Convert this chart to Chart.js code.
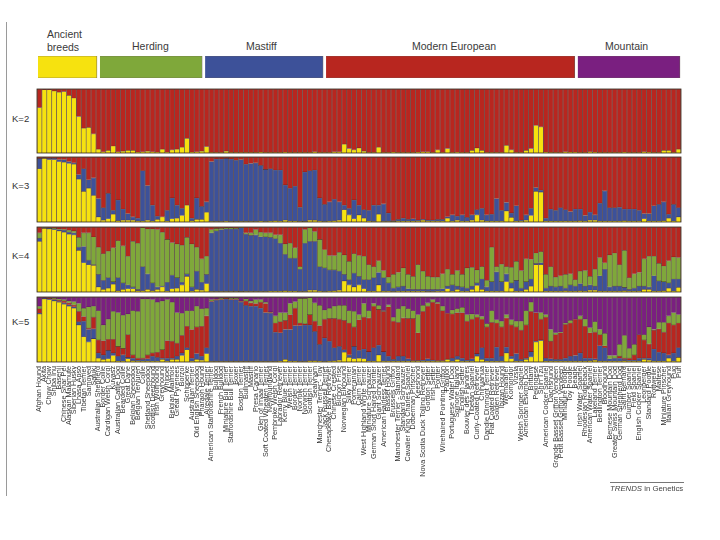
<!DOCTYPE html>
<html>
<head>
<meta charset="utf-8">
<script src="https://cdn.jsdelivr.net/npm/chart.js@4/dist/chart.umd.min.js"></script>
<style>
    html, body { margin: 0; padding: 0; background: #fff; }
    body { width: 720px; height: 540px; position: relative; overflow: hidden; font-family: "Liberation Sans", Arial, sans-serif; color: #3a3a3a; }
    canvas { position: absolute; }
    .t { position: absolute; font-size: 10.5px; line-height: 13px; white-space: nowrap; }
    .k { font-size: 9.5px; color: #333; }
    #sideLine { position: absolute; left: 6px; top: 22px; width: 1px; height: 474px; background: #9a9a9a; }
    #brandLine { position: absolute; left: 610px; top: 482px; width: 74px; height: 1px; background: #777; }
    #brand { left: 610px; top: 483px; font-size: 7.8px; line-height: 11px; color: #444; }
</style>
</head>
<body>
<div id="sideLine"></div>

<div class="t" style="left:47px;top:28px">Ancient<br>breeds</div>
<div class="t" style="left:132px;top:40px">Herding</div>
<div class="t" style="left:246px;top:40px">Mastiff</div>
<div class="t" style="left:412px;top:40px">Modern European</div>
<div class="t" style="left:605px;top:40px">Mountain</div>

<div class="t k" style="left:12px;top:112px">K=2</div>
<div class="t k" style="left:12px;top:179px">K=3</div>
<div class="t k" style="left:12px;top:249px">K=4</div>
<div class="t k" style="left:12px;top:315px">K=5</div>

<canvas id="groups" width="648" height="26" style="left:35px;top:54px"></canvas>
<canvas id="k2" width="648" height="68" style="left:35px;top:87px"></canvas>
<canvas id="k3" width="648" height="69" style="left:35px;top:155px"></canvas>
<canvas id="k4" width="648" height="69" style="left:35px;top:225px"></canvas>
<canvas id="k5" width="648" height="205" style="left:35px;top:295px"></canvas>

<div id="brandLine"></div>
<div class="t" id="brand"><i>TRENDS</i> in Genetics</div>

<script>
const YELLOW = '#f6e20f';
const GREEN = '#7fa83a';
const BLUE = '#3d5199';
const RED = '#b8261f';
const PURPLE = '#7a1f80';

const breeds = [
    'Afghan Hound', 'Akita', 'Chow Chow', 'Shiba Inu', 'Basenji', 'Chinese Shar Pei', 'Alaskan Malamute', 'Siberian Husky', 'Lhasa Apso', 'Tibetan Terrier',
    'Samoyed', 'Saluki', 'Australian Shepherd', 'Border Collie', 'Cardigan Welsh Corgi', 'Kuvasz', 'Australian Cattle Dog', 'Bearded Collie', 'Great Dane', 'Belgian Sheepdog',
    'Belgian Tervuren', 'Collie', 'Shetland Sheepdog', 'Scottish Deerhound', 'Irish Wolfhound', 'Greyhound', 'Whippet', 'Belgian Malinois', 'Great Pyrenees', 'Borzoi',
    'Schipperke', 'Australian Terrier', 'Old English Sheepdog', 'Pharaoh Hound', 'Airedale Terrier', 'American Staffordshire Terrier', 'Bulldog', 'French Bulldog', 'Miniature Bull Terrier', 'Staffordshire Bull Terrier',
    'Boxer', 'Boston Terrier', 'Bullmastiff', 'Mastiff', 'Presa Canario', 'Glen of Imaal Terrier', 'Soft Coated Wheaten Terrier', 'Newfoundland', 'Pembroke Welsh Corgi', 'Labrador Retriever',
    'Kerry Blue Terrier', 'Welsh Terrier', 'Border Terrier', 'Norfolk Terrier', 'Norwich Terrier', 'Scottish Terrier', 'Sealyham', 'Manchester Terrier - Toy', 'Jack Russell Terrier', 'Chesapeake Bay Retriever',
    'Chinese Crested', 'Bichon Frise', 'Norwegian Elkhound', 'Silky Terrier', 'Pomeranian', 'Cairn Terrier', 'West Highland White Terrier', 'Miniature Schnauzer', 'German Short Haired Pointer', 'Giant Schnauzer',
    'American Hairless Terrier', 'Basset Hound', 'Brussels Griffon', 'Manchester Terrier - Standard', 'Standard Schnauzer', 'Cavalier King Charles Spaniel', 'Doberman Pinscher', 'Keeshond', 'Nova Scotia Duck Tolling Retriever', 'Gordon Setter',
    'Irish Setter', 'Pointer', 'Wirehaired Pointing Griffon', 'Papillon', 'Portuguese Water Dog', 'Spinone Italiano', 'English Setter', 'Bouvier des Flandres', 'Tibetan Spaniel', 'Curly-Coated Retriever',
    'Chihuahua', 'Dandie Dinmont Terrier', 'Flat Coated Retriever', 'Golden Retriever', 'Ibizan Hound', 'Weimaraner', 'Komondor', 'Vizsla', 'Welsh Springer Spaniel', 'American Eskimo Dog',
    'Brittany', 'Pekingese', 'Shih Tzu', 'American Cocker Spaniel', 'Dachshund', 'Grande Basset Griffon Vendeen', 'Petit Basset Griffon Vendeen', 'Miniature Poodle', 'Toy Poodle', 'Beagle',
    'Irish Water Spaniel', 'Rhodesian Ridgeback', 'American Water Spaniel', 'Lakeland Terrier', 'Bedlington Terrier', 'Bloodhound', 'Bernese Mountain Dog', 'Greater Swiss Mountain Dog', 'German Shepherd Dog', 'Saint Bernard',
    'Clumber Spaniel', 'Field Spaniel', 'English Cocker Spaniel', 'Leonberger', 'Standard Poodle', 'Rottweiler', 'Maltese', 'Miniature Pinscher', 'Italian Greyhound', 'Pug',
    'Puli'
];

// header blocks, in bar positions along the same axis as the panels
const groupColors = [YELLOW, GREEN, BLUE, RED, PURPLE];
const groupStart = [0.2, 12.8, 34.2, 58.8, 110];
const groupEnd = [12.2, 33.6, 58.2, 109.4, 130.8];

// every list below is the height reached by the top of that colour, in percent
const k2Yellow = [
    71, 99, 99, 97, 95, 96, 90, 86, 57, 39,
    40, 30, 6, 2, 4, 11, 2, 3, 4, 4,
    1, 2, 3, 2, 1, 6, 1, 5, 6, 9,
    23, 1, 2, 3, 10, 0.5, 0.5, 0.5, 3, 0.5,
    0.5, 0.5, 0.5, 0.5, 0.5, 1, 0.5, 0.5, 0.5, 0.5,
    1, 0.5, 0.5, 0.5, 0.5, 0.5, 2, 0.5, 0.5, 0.5,
    2, 2, 14, 7, 5, 8, 3, 0.5, 0.5, 9,
    0.5, 0.5, 1, 0.5, 0.5, 0.5, 0.5, 1, 2, 2,
    0.5, 5, 0.5, 7, 0.5, 1, 0.5, 0.5, 4, 8,
    4, 0.5, 0.5, 0.5, 0.5, 12, 5, 0.5, 0.5, 4,
    7, 43, 41, 1, 0.5, 0.5, 0.5, 2, 1, 1,
    0.5, 0.5, 2, 1, 0.5, 0.5, 0.5, 0.5, 0.5, 1,
    0.5, 0.5, 0.5, 2, 1, 0.5, 0.5, 4, 4, 0.5,
    6
];

const k3Yellow = [
    82, 98, 96, 96, 93, 92, 90, 89, 66, 47,
    52, 41, 8, 3, 5, 12, 2, 3, 3, 3,
    1, 1, 3, 1, 4, 8, 1, 5, 6, 10,
    26, 2, 4, 4, 15, 0.5, 0.5, 0.5, 1, 0.5,
    0.5, 0.5, 0.5, 0.5, 0.5, 1, 0.5, 1, 2, 1,
    3, 1, 1, 0.5, 0.5, 3, 3, 1, 0.5, 1,
    2, 3, 19, 11, 5, 11, 6, 1, 0.5, 12,
    0.5, 0.5, 0.5, 1, 1, 1, 1, 1, 3, 1,
    1, 1, 1, 6, 1, 3, 1, 1, 3, 11,
    3, 1, 1, 1, 1, 17, 7, 1, 1, 3,
    10, 47, 46, 1, 1, 1, 1, 1.5, 1, 1,
    2, 1, 3, 3, 1, 1, 1, 1, 1, 2,
    1, 1, 1, 5, 1, 1, 1, 2, 6, 1,
    8
];
const k3Blue = [
    98, 99, 98, 98, 96, 96, 93, 91, 73, 82,
    65, 68, 36, 22, 44, 18, 34, 20, 13, 8,
    6, 79, 56, 26, 9, 8, 18, 37, 26, 21,
    26, 6, 37, 24, 31, 93, 97, 97, 98, 97,
    95, 96, 89, 90, 91, 87, 81, 82, 80, 80,
    57, 52, 55, 23, 77, 79, 80, 37, 27, 31,
    35, 31, 26, 21, 34, 26, 19, 18, 26, 26,
    28, 14, 2, 4, 6, 4, 5, 3, 4, 3,
    3, 4, 4, 8, 11, 9, 11, 7, 11, 19,
    21, 11, 12, 36, 18, 30, 14, 25, 3, 11,
    21, 53, 49, 6, 20, 18, 22, 19, 16, 20,
    20, 10, 15, 11, 29, 48, 22, 22, 23, 20,
    20, 20, 18, 13, 13, 25, 27, 31, 12, 27,
    22
];

const k4Yellow = [
    78, 98, 97, 96, 94, 92, 89, 88, 64, 45,
    42, 41, 8, 4, 6, 12, 2, 4, 5, 5,
    2, 2, 4, 2, 4, 8, 1, 5, 6, 11,
    24, 1, 4, 3, 13, 0.5, 0.5, 0.5, 0.5, 0.5,
    0.5, 0.5, 0.5, 0.5, 0.5, 0.5, 0.5, 1, 1, 1,
    2, 1, 1, 0.5, 0.5, 3, 3, 1, 0.5, 1,
    2, 3, 17, 11, 8, 11, 5, 1, 1, 11,
    1, 1, 0.5, 1, 1, 1, 1, 1, 1, 0.5,
    0.5, 1, 1, 5, 1, 4, 1, 1, 4, 10,
    4, 1, 1, 1, 1, 16, 6, 1, 1, 4,
    9, 42, 42, 1, 1, 1, 1, 2, 1, 1,
    2, 1, 3, 3, 1, 1, 1, 1, 1, 2,
    1, 1, 1, 4, 4, 1, 1, 2, 6, 1,
    7
];
const k4Blue = [
    83, 99, 98, 97, 96, 95, 92, 91, 69, 70,
    49, 42, 27, 18, 22, 16, 22, 14, 11, 8,
    4, 39, 28, 14, 8, 9, 15, 26, 22, 15,
    28, 8, 32, 15, 27, 91, 94, 96, 97, 97,
    97, 99, 89, 87, 88, 85, 85, 84, 82, 75,
    58, 52, 52, 35, 75, 78, 78, 39, 37, 34,
    34, 32, 27, 19, 29, 24, 19, 19, 22, 30,
    22, 14, 6, 8, 9, 5, 4, 4, 4, 4,
    4, 4, 5, 9, 11, 9, 8, 6, 9, 14,
    20, 8, 16, 31, 16, 28, 14, 18, 6, 16,
    20, 44, 45, 6, 9, 8, 9, 6, 11, 9,
    13, 9, 11, 9, 25, 35, 8, 9, 9, 7,
    4, 6, 9, 9, 8, 25, 17, 16, 14, 20,
    20
];
const k4Green = [
    91, 99.5, 99, 98, 97, 96, 95, 94, 84, 91,
    91, 85, 69, 59, 63, 68, 79, 71, 55, 78,
    75, 99, 97, 97, 96, 92, 81, 76, 74, 72,
    84, 74, 69, 51, 55, 96, 98, 98, 99, 99,
    98, 99.5, 91, 91, 96, 92, 91, 91, 88, 88,
    74, 75, 68, 39, 96, 99, 93, 81, 65, 56,
    56, 61, 57, 47, 59, 56, 55, 42, 39, 48,
    33, 23, 27, 30, 37, 27, 24, 42, 32, 24,
    23, 23, 28, 35, 27, 33, 27, 37, 38, 34,
    39, 18, 69, 39, 43, 39, 38, 47, 33, 51,
    50, 60, 62, 27, 39, 23, 25, 27, 28, 19,
    32, 33, 24, 35, 53, 45, 57, 60, 42, 64,
    22, 28, 30, 51, 55, 55, 44, 40, 48, 54,
    53
];

const k5Yellow = [
    74, 97, 96, 94, 92, 89, 86, 83, 57, 39,
    31, 36, 6, 4, 5, 10, 1, 1, 5, 2,
    1, 1, 1, 1, 1, 4, 1, 4, 4, 10,
    19, 1, 4, 3, 13, 0.5, 0.5, 0.5, 0.5, 0.5,
    0.5, 0.5, 0.5, 0.5, 0.5, 0.5, 0.5, 0.5, 0.5, 1,
    4, 1, 1, 0.5, 0.5, 2, 2, 1, 0.5, 1,
    2, 3, 15, 7, 5, 6, 5, 1, 1, 11,
    1, 1, 1, 1, 1, 1, 1, 1.5, 1, 1,
    1, 1, 1, 4, 1, 4, 1, 1, 1, 9,
    4, 1, 1, 1, 1, 14, 5, 1, 1, 4,
    8, 31, 33, 1, 1, 1, 1, 1, 1, 1,
    1.5, 1, 2, 3, 1, 1, 1, 1, 1, 2,
    1, 1, 1, 4, 3, 1, 1, 1, 6, 1,
    7
];
const k5Blue = [
    75, 98, 97, 96, 93, 91, 88, 85, 62, 63,
    50, 51, 14, 11, 18, 14, 9, 11, 7, 6,
    3, 4, 5, 9, 7, 6, 6, 6, 9, 14,
    22, 6, 13, 9, 22, 93, 95, 96, 97, 96,
    96, 92, 87, 86, 86, 83, 76, 75, 46, 45,
    50, 50, 56, 56, 57, 57, 47, 27, 37, 32,
    22, 24, 19, 11, 24, 18, 20, 16, 22, 26,
    16, 9, 4, 9, 9, 5, 2, 2, 3, 5,
    3, 2, 2, 4.5, 6, 9, 6, 3, 5, 13,
    22, 6, 6, 23, 9, 23, 9, 13, 4, 6,
    16, 32, 34, 6, 5, 4, 4, 6, 9, 10,
    14, 6, 6, 5, 25, 22, 5, 6, 6, 4,
    3, 3, 6, 6, 6, 20, 15, 14, 11, 14,
    22
];
const k5Red = [
    82, 99, 98, 97, 95, 94, 91, 88, 78, 70,
    52, 69, 34, 33, 35, 35, 24, 21, 42, 11,
    6, 6, 11, 14, 15, 19, 33, 32, 29, 41,
    55, 50, 54, 55, 71, 94, 96, 97, 98, 97,
    97, 93, 94, 91, 90, 92, 90, 76, 60, 62,
    64, 73, 83, 60, 59, 73, 63, 56, 66, 67,
    67, 66, 64, 60, 54, 65, 69, 68, 86, 81,
    78, 85, 63, 61, 68, 67, 67, 45, 78, 86,
    92, 90, 79, 75, 74, 76, 76, 63, 66, 69,
    66, 54, 61, 60, 54, 68, 57, 54, 49, 57,
    78, 76, 66, 69, 32, 42, 45, 58, 60, 66,
    66, 55, 45, 46, 42, 25, 5, 6, 9, 6,
    6, 11, 42, 34, 28, 49, 51, 46, 60, 57,
    60
];
const k5Green = [
    86, 99, 99, 98, 97, 96, 94, 93, 90, 83,
    85, 86, 79, 57, 66, 78, 76, 72, 74, 79,
    78, 97, 97, 96, 92, 94, 96, 92, 76, 75,
    79, 79, 86, 82, 83, 96, 97, 98, 99, 98,
    98, 94, 97, 94, 96, 96, 92, 77, 71, 76,
    76, 90, 93, 98, 98, 99, 91, 87, 80, 83,
    86, 87, 87, 79, 78, 73, 90, 79, 90, 87,
    79, 88, 69, 82, 86, 82, 79, 73, 87, 91,
    96, 92, 86, 75, 80, 82, 84, 73, 74, 73,
    70, 59, 79, 65, 63, 73, 65, 63, 63, 79,
    92, 76, 76, 73, 50, 45, 46, 60, 64, 66,
    71, 66, 53, 62, 50, 44, 10, 10, 27, 41,
    21, 27, 42, 42, 54, 50, 61, 61, 71, 76,
    73
];

const FULL = breeds.map(() => 100);

const panelFrame = {
    id: 'panelFrame',
    afterDraw(chart) {
        const { ctx, chartArea: a } = chart;
        ctx.save();
        ctx.strokeStyle = '#33261a';
        ctx.lineWidth = 0.8;
        ctx.strokeRect(a.left, a.top, a.right - a.left, a.bottom - a.top);
        ctx.restore();
    }
};

function makePanel(id, layers, showBreeds) {
    const datasets = layers.map((layer, n) => ({
        data: layer.tops.map((top, i) => n === 0 ? top : Math.max(0, top - layers[n - 1].tops[i])),
        backgroundColor: layer.color,
        borderColor: 'rgba(45, 20, 15, 0.6)',
        borderWidth: 0.7,
        barPercentage: 1,
        categoryPercentage: 1
    }));
    new Chart(document.getElementById(id), {
        type: 'bar',
        data: { labels: breeds, datasets },
        options: {
            responsive: false,
            animation: false,
            layout: { padding: { left: 2, right: 2, top: 2, bottom: showBreeds ? 0 : 2 } },
            plugins: { legend: { display: false }, tooltip: { enabled: false } },
            scales: {
                x: {
                    stacked: true,
                    display: showBreeds,
                    grid: { display: false, drawTicks: false },
                    border: { display: false },
                    // keep the plot as wide as the panels above, whatever the labels need
                    afterFit: (scale) => {
                        if (!showBreeds) return;
                        scale.height = 138;
                        scale.paddingLeft = 0;
                        scale.paddingRight = 0;
                    },
                    ticks: {
                        autoSkip: false,
                        minRotation: 90,
                        maxRotation: 90,
                        padding: 4,
                        color: '#333',
                        font: { size: 7.2, family: '"Liberation Sans", Arial, sans-serif' }
                    }
                },
                y: { stacked: true, display: false, min: 0, max: 100 }
            }
        },
        plugins: [panelFrame]
    });
}

new Chart(document.getElementById('groups'), {
    type: 'bar',
    data: {
        labels: ['groups'],
        datasets: groupColors.map((color, i) => ({
            data: [[groupStart[i], groupEnd[i]]],
            backgroundColor: color,
            borderColor: 'rgba(45, 30, 20, 0.7)',
            borderWidth: 0.7,
            grouped: false,
            barPercentage: 1,
            categoryPercentage: 1
        }))
    },
    options: {
        indexAxis: 'y',
        responsive: false,
        animation: false,
        layout: { padding: { left: 2, right: 2, top: 2, bottom: 2 } },
        plugins: { legend: { display: false }, tooltip: { enabled: false } },
        scales: {
            x: { display: false, min: 0, max: breeds.length },
            y: { display: false }
        }
    }
});

makePanel('k2', [
    { color: YELLOW, tops: k2Yellow },
    { color: RED, tops: FULL }
], false);
makePanel('k3', [
    { color: YELLOW, tops: k3Yellow },
    { color: BLUE, tops: k3Blue },
    { color: RED, tops: FULL }
], false);
makePanel('k4', [
    { color: YELLOW, tops: k4Yellow },
    { color: BLUE, tops: k4Blue },
    { color: GREEN, tops: k4Green },
    { color: RED, tops: FULL }
], false);
makePanel('k5', [
    { color: YELLOW, tops: k5Yellow },
    { color: BLUE, tops: k5Blue },
    { color: RED, tops: k5Red },
    { color: GREEN, tops: k5Green },
    { color: PURPLE, tops: FULL }
], true);
</script>
</body>
</html>
